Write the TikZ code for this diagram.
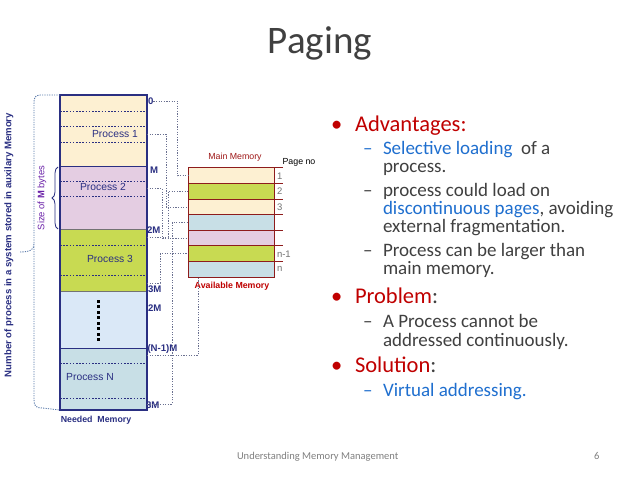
\documentclass[tikz,border=0pt]{standalone}
\usepackage{fontspec}
\setmainfont{Carlito}
\newfontfamily\arialf{Liberation Sans}
\usetikzlibrary{positioning, decorations.pathreplacing}

\definecolor{cream}{HTML}{FDF0D2}
\definecolor{lilac}{HTML}{E4CDE2}
\definecolor{lime}{HTML}{C8DA52}
\definecolor{skyl}{HTML}{DAE8F7}
\definecolor{teal}{HTML}{C8DFE6}
\definecolor{navy}{HTML}{2A2F82}
\definecolor{mmred}{HTML}{8E1C1C}
\definecolor{linkc}{HTML}{6A7090}
\definecolor{bracec}{HTML}{5A7AAA}
\definecolor{txtgray}{HTML}{404040}
\definecolor{hdred}{HTML}{C00000}
\definecolor{hlblue}{HTML}{1F6FCF}

\begin{document}
\begin{tikzpicture}[
  x=1pt, y=-1pt,
  node distance=0pt,
  every node/.style={inner sep=0pt, outer sep=0pt},
  pagebox/.style={minimum width=87pt, anchor=north},
  framebox/.style={draw=mmred, line width=1pt, minimum width=86pt, minimum height=15.6pt},
  sep/.style={draw=navy, line width=0.7pt, dash pattern=on 1.6pt off 1.6pt},
  addr/.style={font=\arialf\bfseries\fontsize{9.6}{10}\selectfont, text=navy, anchor=west},
  ptext/.style={font=\arialf\fontsize{10.3}{11}\selectfont, text=navy},
  pno/.style={font=\arialf\fontsize{9.5}{10}\selectfont, text=black!55, anchor=west},
  link/.style={draw=linkc, line width=0.9pt, dash pattern=on 1.2pt off 1.4pt},
  head/.style={anchor=base west, font=\fontsize{22.5}{25}\selectfont, text=hdred},
  dashmark/.style={anchor=base west, font=\fontsize{19}{18}\selectfont, text=txtgray},
  txt/.style={anchor=base west, font=\fontsize{19}{18}\selectfont, text=txtgray}
]
\useasboundingbox[fill=white] (0,0) rectangle (638,478);

% Title
\node[font=\fontsize{39}{44}\selectfont, text=txtgray, anchor=base] (title) at (320,54) {Paging};

% Needed memory column
\node[pagebox, fill=cream, minimum height=16pt] (p1a) at (103.5,95) {};
\node[pagebox, fill=cream, minimum height=15pt, below=of p1a] (p1b) {};
\node[pagebox, fill=cream, minimum height=16pt, below=of p1b] (p1c) {};
\node[pagebox, fill=cream, minimum height=25pt, below=of p1c] (p1d) {};
\node[pagebox, fill=lilac, minimum height=14pt, below=of p1d] (p2a) {};
\node[pagebox, fill=lilac, minimum height=15pt, below=of p2a] (p2b) {};
\node[pagebox, fill=lilac, minimum height=33pt, below=of p2b] (p2c) {};
\node[pagebox, fill=lime, minimum height=16pt, below=of p2c] (p3a) {};
\node[pagebox, fill=lime, minimum height=30pt, below=of p3a] (p3b) {};
\node[pagebox, fill=lime, minimum height=16pt, below=of p3b] (p3c) {};
\node[pagebox, fill=skyl, minimum height=57pt, below=of p3c] (pdots) {};
\node[pagebox, fill=teal, minimum height=15pt, below=of pdots] (pNa) {};
\node[pagebox, fill=teal, minimum height=35pt, below=of pNa] (pNb) {};
\node[pagebox, fill=teal, minimum height=12pt, below=of pNb] (pNc) {};

% page separators
\foreach \p in {p1a,p1b,p1c,p2a,p2b,p3a,p3b,pNa,pNb}
  \draw[sep] (\p.south west) -- (\p.south east);
% process boundaries
\draw[navy, line width=1pt] (p1d.south west) -- (p1d.south east);
\draw[black!55, line width=0.8pt] (p2c.south west) -- (p2c.south east);
\draw[black!55, line width=0.8pt] (p3c.south west) -- (p3c.south east);
\draw[navy, line width=0.8pt] (pdots.south west) -- (pdots.south east);
\draw[navy, line width=1.6pt] (p1a.north west) rectangle (pNc.south east);

\foreach \k in {0,...,7}
  \fill (pdots.north) ++(-7,9+5.5*\k) rectangle ++(3.2,3);

\node[ptext] (lp1) at (115,134) {Process 1};
\node[ptext] (lp2) at (103,187) {Process 2};
\node[ptext] (lp3) at (110,259) {Process 3};
\node[ptext] (lpN) at (90,377) {Process N};
\node[font=\arialf\bfseries\fontsize{8.8}{9}\selectfont, text=navy] (need) at (96,420) {Needed\ \ Memory};

% addresses
\node[addr] (l0) at (148,101) {0};
\node[addr] (lM) at (150,170) {M};
\node[addr] (l2M) at (147,230) {2M};
\node[addr] (l3M) at (148,289) {3M};
\node[addr] (l2Mb) at (148,308) {2M};
\node[addr] (lN1) at (147.5,349) {(N-1)M};
\node[addr] (lNM) at (146,405) {3M};

% size of M bytes
\draw[navy, line width=0.8pt, decorate, decoration={brace, amplitude=6pt}]
  (p2c.south west) ++(-2,0) -- ([xshift=-2pt]p2a.north west);
\node[font=\arialf\fontsize{9.4}{10}\selectfont, text=navy!70!magenta, rotate=90] (size) at (42,198)
  {Size of \textbf{M} bytes};

% number of processes brace
\draw[draw=bracec, line width=0.9pt, dash pattern=on 1.2pt off 1.2pt]
  (p1a.north west) -- ++(-20,0) .. controls ++(-6,0) and ++(0,-6) .. ++(-6,10)
  -- (34,244) .. controls (34,250) and (30,252) .. (19,252)
  (34,244) .. controls (34,250) and (34,252) .. (34,260)
  -- (34,400) .. controls (34,406) and (36,408) .. (42,408) -- (pNc.south west);
\node[font=\arialf\bfseries\fontsize{9.6}{10}\selectfont, text=navy, rotate=90] (numproc) at (9,245)
  {Number of process in a system stored in auxilary Memory};

% Main memory frames
\node[framebox, fill=cream] (f1) at (231,175.8) {};
\node[framebox, fill=lime, below=of f1] (f2) {};
\node[framebox, fill=cream, below=of f2] (f3) {};
\node[framebox, fill=teal, below=of f3] (f4) {};
\node[framebox, fill=lilac, below=of f4] (f5) {};
\node[framebox, fill=lime, below=of f5] (f6) {};
\node[framebox, fill=teal, below=of f6] (f7) {};
\foreach \f in {f1,f2,f3,f4,f5,f6,f7}
  \draw[mmred, line width=1pt] (\f.north east) -- ++(9,0);

\node[pno] (n1) at ([xshift=3pt]f1.east) {1};
\node[pno] (n2) at ([xshift=3pt]f2.east) {2};
\node[pno] (n3) at ([xshift=3pt]f3.east) {3};
\node[pno] (nn1) at ([xshift=3pt]f6.east) {n-1};
\node[pno] (nn) at ([xshift=3pt]f7.east) {n};
\node[font=\arialf\fontsize{8.8}{9}\selectfont, text=mmred!85!red] (mm) at (235,157) {Main Memory};
\node[font=\arialf\fontsize{8.8}{9}\selectfont] (pageno) at (299,162) {Page no};
\node[font=\arialf\bfseries\fontsize{8.8}{9}\selectfont, text=red!75!black] (avail) at (232,286) {Available Memory};

% page -> frame links
\draw[link] (l0.east) -- ++(24,0) |- (f1.west);
\draw[link] (p1c.east) -- ++(19,0) |- (f3.west);
\draw[link] (p2b.east) -- ++(15,0) |- (f5.west);
\draw[link] (p3a.east) -- ++(21,0) |- (f2.west);
\draw[link] (p3c.east) -- ++(13,0) |- (f6.west);
\draw[link] (pNc.east) -- ++(25,0) |- (f4.west);
\draw[link] (pNa.east) -| ([xshift=10pt]f7.south west);

% Bullets
\node[head] (b1) at (331,132) {•};
\node[head] (adv) at (355,132) {Advantages:};
\node[dashmark, text=hlblue] (d1) at (363,155) {–};
\node[txt] (t1a) at (383,155) {\textcolor{hlblue}{Selective loading}\ \ of a};
\node[txt] (t1b) at (383,173) {process.};
\node[dashmark] (d2) at (363,197) {–};
\node[txt] (t2a) at (383,197) {process could load on};
\node[txt] (t2b) at (383,215) {\textcolor{hlblue}{discontinuous pages}, avoiding};
\node[txt] (t2c) at (383,233) {external fragmentation.};
\node[dashmark] (d3) at (363,257) {–};
\node[txt] (t3a) at (383,257) {Process can be larger than};
\node[txt] (t3b) at (383,275) {main memory.};

\node[head] (b2) at (331,304) {•};
\node[head] (prob) at (355,304) {Problem\textcolor{txtgray}{:}};
\node[dashmark] (d4) at (363,328) {–};
\node[txt] (t4a) at (383,328) {A Process cannot be};
\node[txt] (t4b) at (383,347) {addressed continuously.};

\node[head] (b3) at (331,373) {•};
\node[head] (sol) at (355,373) {Solution\textcolor{txtgray}{:}};
\node[dashmark, text=hlblue] (d5) at (363,397) {–};
\node[txt, text=hlblue] (t5) at (383,397) {Virtual addressing.};

% footer
\node[anchor=base west, font=\fontsize{10.5}{11}\selectfont, text=black!50] (foot) at (237,460) {Understanding Memory Management};
\node[anchor=base west, font=\fontsize{10.5}{11}\selectfont, text=black!50] (pg) at (594,460) {6};
\end{tikzpicture}
\end{document}
